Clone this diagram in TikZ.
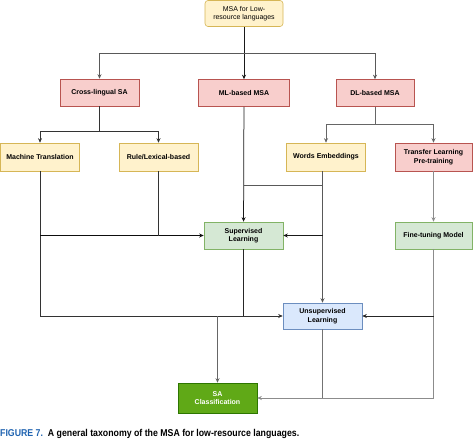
\documentclass[tikz,border=0pt]{standalone}
\usepackage{fontspec}
\setmainfont{Liberation Sans}
\usetikzlibrary{arrows.meta,calc}
\definecolor{yfill}{HTML}{FFF2CC}\definecolor{ydraw}{HTML}{D6B656}
\definecolor{rfill}{HTML}{F8CECC}\definecolor{rdraw}{HTML}{B85450}
\definecolor{gfill}{HTML}{D5E8D4}\definecolor{gdraw}{HTML}{82B366}
\definecolor{bfill}{HTML}{DAE8FC}\definecolor{bdraw}{HTML}{6C8EBF}
\definecolor{safill}{HTML}{60A917}\definecolor{sadraw}{HTML}{2D7600}
\definecolor{capblue}{HTML}{1F63B0}
\tikzset{
  box/.style={draw, line width=0.6pt, minimum width=79pt, minimum height=27pt, inner sep=1pt, align=center,
    font=\fontsize{7}{8.5}\selectfont\bfseries},
  ybox/.style={box, fill=yfill, draw=ydraw},
  rbox/.style={box, fill=rfill, draw=rdraw},
  gbox/.style={box, fill=gfill, draw=gdraw},
  bbox/.style={box, fill=bfill, draw=bdraw},
  sabox/.style={box, fill=safill, draw=sadraw, text=white, minimum height=30pt},
  conn/.style={line width=0.75pt, draw=black!80},
  arr/.style={conn, -{Stealth[length=4.5pt,width=4pt]}},
}
\begin{document}
\begin{tikzpicture}[x=1pt,y=-1pt]
\useasboundingbox (0,0) rectangle (474,439);
% nodes
\node[ybox, rounded corners=3pt, minimum width=78pt, minimum height=26pt, font=\fontsize{7}{8.5}\selectfont] (top) at (244,13.5) {MSA for Low-\\resource languages};
\node[rbox] (cross) at (99.5,92.5) {Cross-lingual SA};
\node[rbox, minimum width=91pt] (ml) at (244,93) {ML-based MSA};
\node[rbox, minimum width=78pt] (dl) at (375,93) {DL-based MSA};
\node[ybox, minimum width=79pt, minimum height=28pt] (mt) at (40,157) {Machine Translation};
\node[ybox, minimum height=28pt] (rule) at (158.5,157) {Rule/Lexical-based};
\node[ybox, minimum height=28pt] (we) at (326,157) {Words Embeddings};
\node[rbox, minimum width=77pt, minimum height=28pt] (tl) at (433.5,157) {Transfer Learning\\Pre-training};
\node[gbox] (sup) at (243.5,235.5) {Supervised\\Learning};
\node[gbox, minimum width=77pt] (ft) at (433.5,235.5) {Fine-tuning Model};
\node[bbox, minimum height=26pt] (unsup) at (322.5,316) {Unsupervised\\Learning};
\node[sabox] (sa) at (217.5,398) {SA\\Classification};
% junctions
\coordinate (j1) at (244,53);
\coordinate (j2) at (99.5,131);
\coordinate (j3) at (375,124);
\coordinate (j4) at (322.5,185);
\coordinate (wes) at (322.5,171);
% connectors
\draw[arr, draw=black!90] (top) -- (ml);
\draw[arr, draw=black!65] (j1) -| (cross);
\draw[arr, draw=black!65] (j1) -| (dl);
\draw[conn] (cross) -- (j2);
\draw[arr] (j2) -| (mt);
\draw[arr] (j2) -| (rule);
\draw[conn, draw=black!60] (dl) -- (j3);
\draw[arr, draw=black!60] (j3) -| (we);
\draw[arr, draw=black!60] (j3) -| (tl);
\draw[arr, draw=black!90] (ml) -- (sup);
\draw[arr] (mt) |- (unsup);
\draw[arr, draw=black!95] (mt.south |- sup) -- (sup);
\draw[conn] (rule) -- (rule.south |- sup);
\draw[arr, draw=black!65] (wes) -- (unsup);
\draw[conn, draw=black!65] (j4) -- (ml.south |- j4);
\draw[arr, draw=black!90] (unsup |- sup) -- (sup);
\draw[arr, draw=black!45, line width=0.9pt] (tl) -- (ft);
\draw[arr, draw=black!45, line width=0.9pt] (ft) |- (sa);
\draw[arr, draw=black!85] (ft |- unsup) -- (unsup);
\draw[conn, draw=black!85] (sup) -- (sup.south |- unsup);
\draw[arr, draw=black!60] (sa |- unsup) -- (sa);
\draw[conn, draw=black!55] (unsup) -- (unsup.south |- sa);
% caption
\node[anchor=base west, inner sep=0pt, font=\bfseries] (cap) at (0,436)
  {\resizebox{299pt}{7.2pt}{\textcolor{capblue}{FIGURE 7.}\ \ A general taxonomy of the MSA for low-resource languages.}};
\end{tikzpicture}
\end{document}
